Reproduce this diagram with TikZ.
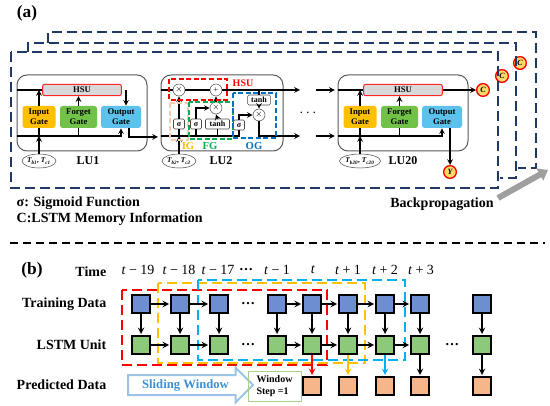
\documentclass[tikz,border=0pt]{standalone}
\usepackage{fontspec}
\setmainfont{Liberation Serif}
\usetikzlibrary{arrows.meta,shapes.geometric,shapes.arrows}

\definecolor{navy}{HTML}{1F3864}
\definecolor{gatey}{HTML}{FFC000}
\definecolor{gateg}{HTML}{72C24A}
\definecolor{gateb}{HTML}{5CC2EC}
\definecolor{hsugray}{HTML}{D9D9D9}
\definecolor{cyel}{HTML}{FFD966}
\definecolor{igpeach}{HTML}{F8CBAD}
\definecolor{fggreen}{HTML}{00B050}
\definecolor{ogblue}{HTML}{0070C0}
\definecolor{sqblue}{HTML}{6D8FD2}
\definecolor{sqgreen}{HTML}{8DC97B}
\definecolor{sqorange}{HTML}{F7B58A}
\definecolor{winorange}{HTML}{FFC000}
\definecolor{winblue}{HTML}{00B0F0}
\definecolor{slideblue}{HTML}{9DC3E6}
\definecolor{slidetext}{HTML}{3D8FD6}
\definecolor{stepgreen}{HTML}{A9D18E}

% one LSTM unit with gate blocks
\newcommand{\lstmcell}[3]{%
	\node[unitbox] (lu#1) at (#2+65,113) {};
	\node[hsubar] (hsu#1) at (#2+65,90) {HSU};
	\node[gatebox, fill=gatey, minimum width=24.75pt] (ig#1) at (#2+22,117) {Input\\Gate};
	\node[gatebox, fill=gateg, minimum width=27.75pt] (fg#1) at (#2+61.5,117) {Forget\\Gate};
	\node[gatebox, fill=gateb, minimum width=30pt] (og#1) at (#2+104,117) {Output\\Gate};
	\node[tinput] (tin#1) at (#2+22,161) {T\textsubscript{b#3}, T\textsubscript{c#3}};
	\coordinate (bot#1) at (#2,136);
	\draw[wire] (lu#1.west |- hsu#1.west) -- (hsu#1.west);
	\draw[wire,-stealth] (tin#1.north) -- (tin#1.north |- bot#1);
	\draw[wire,-stealth] (ig#1.north) -- (ig#1.north |- hsu#1.west);
	\draw[wire] (ig#1.south) -- (ig#1.south |- bot#1);
	\draw[wire,-stealth] (fg#1.north) -- (fg#1.north |- hsu#1.south);
	\draw[wire] (fg#1.south) -- (fg#1.south |- bot#1);
	\draw[wire,-stealth] (bot#1) -| (og#1.south);
}

\begin{document}
\begin{tikzpicture}[x=0.75pt,y=-0.75pt,
	font=\bfseries\fontsize{10.5}{12}\selectfont,
	wire/.style={line width=0.9pt},
	flow/.style={line width=1.1pt,-stealth,shorten >=0.5pt},
	framedash/.style={draw=navy, line width=1.5pt, dash pattern=on 7.5pt off 3.75pt},
	grpdash/.style={line width=1.1pt, dash pattern=on 3.75pt off 1.9pt},
	windash/.style={line width=1.5pt, dash pattern=on 7.5pt off 3.75pt},
	unitbox/.style={draw=black!65, rounded corners=7.5pt, line width=0.75pt, minimum width=97.5pt, minimum height=57pt},
	hsubar/.style={draw=red!85, fill=hsugray, rounded corners=1.5pt, line width=0.75pt, minimum width=59pt, minimum height=8.5pt, inner sep=0pt, font=\bfseries\fontsize{6.5}{7}\selectfont},
	gatebox/.style={rounded corners=2pt, minimum height=16.5pt, inner sep=0pt, align=center, font=\bfseries\fontsize{6.5}{7.5}\selectfont},
	tinput/.style={draw=black!70, ellipse, minimum width=25.5pt, minimum height=10.5pt, inner sep=0pt, font=\bfseries\itshape\fontsize{5.5}{6}\selectfont},
	memc/.style={circle, draw=red, fill=cyel, line width=1pt, minimum size=9.5pt, inner sep=0pt, font=\bfseries\itshape\fontsize{6}{6}\selectfont},
	opc/.style={circle, draw=black!70, fill=white, minimum size=9pt, inner sep=0pt, font=\fontsize{6}{6}\selectfont},
	actbox/.style={draw=black!70, fill=white, rounded corners=1pt, minimum width=8.25pt, minimum height=7.5pt, inner sep=0.5pt, font=\bfseries\fontsize{6}{6}\selectfont},
	unitlab/.style={font=\bfseries\fontsize{9}{10}\selectfont},
	rowlab/.style={anchor=east},
	sqbox/.style={draw=black, line width=1.5pt, minimum size=14pt, inner sep=0pt},
]
\useasboundingbox (0,0) rectangle (550,406);

%% (a) stacked LSTM
\node[font=\bfseries\fontsize{13}{14}\selectfont] (tagA) at (27,13) {(a)};

\node[memc] (c1) at (502,76) {C};
\node[memc] (c2) at (520,63) {C};
\draw[framedash] (11,52) rectangle (498,188);
\draw[framedash] (28,52) -- (28,43) -- (516,43) -- (516,178) -- (500,178);
\draw[framedash] (48,43) -- (48,32) -- (536,32) -- (536,168) -- (518,168);

% LU1
\lstmcell{1}{17}{1}
\node[unitlab] (lab1) at (88,161) {LU1};
\coordinate (od1) at (126,90);
\draw[wire,-stealth] (od1) -- (od1 |- og1.north);
\draw[wire,-stealth] (129,128) |- (158,137);

% LU2 opened up
\node[unitbox, minimum width=91.5pt] (lu2) at (222,113) {};
\node[unitlab] (lab2) at (221,161) {LU2};
\node[opc] (mx1) at (179,90) {$\times$};
\node[opc] (pl) at (216,90) {+};
\node[opc] (mx2) at (216,108) {$\times$};
\node[opc] (mx3) at (259,115) {$\times$};
\node[actbox] (sg1) at (179,124) {σ};
\node[actbox] (sg2) at (196,124) {σ};
\node[actbox, minimum width=18pt] (th1) at (217.5,124) {tanh};
\node[actbox] (sg3) at (239,125) {σ};
\node[actbox, minimum width=17pt] (th2) at (259,100) {tanh};
\node[tinput] (tin2) at (179,161) {T\textsubscript{b2}, T\textsubscript{c2}};
\coordinate (bot2) at (161,136);
\coordinate (gapT) at (300,90);
\coordinate (gapB) at (300,136);
\coordinate (resT) at (316,90);
\coordinate (resB) at (316,136);

\draw[wire] (lu2.west |- mx1) -- (mx1) -- (pl);
\draw[wire,-stealth] (pl) -- (gapT);
\draw[wire,-stealth] (tin2.north) -- (tin2.north |- bot2);
\draw[wire] (bot2) -- (bot2 -| sg3.south) -- (sg3.south);
\draw[wire] (sg1.south) -- (sg1.south |- bot2);
\draw[wire] (sg2.south) -- (sg2.south |- bot2);
\draw[wire] (th1.south) -- (th1.south |- bot2);
\draw[wire,-stealth] (sg1.north) -- (mx1.south);
\draw[wire,-stealth] (sg2.north) |- (mx2.west);
\draw[wire,-stealth] (th1.north) -- (mx2.south);
\draw[wire,-stealth] (mx2.north) -- (pl.south);
\draw[wire] (th2.north |- pl) -- (th2.north);
\draw[wire,-stealth] (th2.south) -- (mx3.north);
\draw[wire,-stealth] (sg3.north) |- (mx3.west);
\draw[wire,-stealth] (mx3.south) |- (gapB);

\draw[grpdash, draw=red] (169,79) rectangle (227,100);
\draw[grpdash, draw=igpeach] (170,103) rectangle (188,140);
\draw[grpdash, draw=fggreen] (189,102) rectangle (233,139);
\draw[grpdash, draw=ogblue] (233,93) rectangle (276,138);
\node[text=red, font=\bfseries\fontsize{7.5}{8}\selectfont] (hsuname) at (243,83) {HSU};
\node[text=gatey, font=\bfseries\fontsize{8}{9}\selectfont] (igname) at (188,146) {IG};
\node[text=fggreen, font=\bfseries\fontsize{8}{9}\selectfont] (fgname) at (210,146) {FG};
\node[text=ogblue, font=\bfseries\fontsize{8}{9}\selectfont] (ogname) at (254,146) {OG};

\node (gapdots) at (308,113) {$\cdots$};

% LU20
\lstmcell{20}{338}{20}
\node[unitlab] (lab20) at (403,161) {LU20};
\draw[wire,-stealth,shorten >=2pt] (resT) -- (lu20.west |- resT);
\draw[wire,-stealth,shorten >=2pt] (resB) -- (lu20.west |- resB);
\node[memc] (c0) at (483,90) {C};
\node[memc] (yout) at (450,172) {Y};
\draw[wire,-stealth] (hsu20.east) -- (c0.west);
\coordinate (oo20) at (450,128);
\draw[wire,-stealth] (oo20) -- (yout.north);

% legend and backpropagation
\node[anchor=west] (leg1) at (12,203) {σ: Sigmoid Function};
\node[anchor=west] (leg2) at (12,219) {C:LSTM Memory Information};
\node (bplab) at (442,204) {Backpropagation};
\coordinate (bp0) at (498,198);
\coordinate (bp1) at (548,170);
\draw[line width=4.5pt, draw=gray!75, -{Triangle[length=7pt,width=10pt]}] (bp0) -- (bp1);

\draw[line width=1.2pt, dash pattern=on 6pt off 3.75pt] (10,243) -- (545,243);

%% (b) sliding window
\node[font=\bfseries\fontsize{13}{14}\selectfont] (tagB) at (32,270) {(b)};
\node[rowlab] (lbtime) at (111,272) {Time};
\node[rowlab] (lbtrain) at (111,304) {Training Data};
\node[rowlab] (lblstm) at (111,345) {LSTM Unit};
\node[rowlab] (lbpred) at (111,385) {Predicted Data};

\foreach \cx/\tl in {138/\kern2.5pt−\kern2.5pt19, 179/\kern2.5pt−\kern2.5pt18, 218/\kern2.5pt−\kern2.5pt17, 277/\kern2.5pt−\kern2.5pt1, 313/, 348/\kern2.5pt+\kern2.5pt1, 385/\kern2.5pt+\kern2.5pt2, 421/\kern2.5pt+\kern2.5pt3}
	\node[font=\mdseries\fontsize{10.5}{12}\selectfont] (tm\cx) at (\cx,270) {\textit{t}\tl};
\node (tmdots) at (246,270) {…};

\draw[windash, draw=red] (122,290) rectangle (327,365);
\draw[windash, draw=winorange] (158,283) rectangle (365,363);
\draw[windash, draw=winblue] (198,280) rectangle (405,360);

\coordinate (prow) at (0,386);
\foreach \cx [count=\i] in {141,180,219,277,312,348,385,420,482} {
	\node[sqbox, fill=sqblue] (tr\i) at (\cx,304) {};
	\node[sqbox, fill=sqgreen] (ls\i) at (\cx,345) {};
	\draw[flow] (tr\i) -- (ls\i);
}
\foreach \a/\b in {1/2,2/3,4/5,5/6,6/7,7/8} {
	\draw[flow] (tr\a) -- (tr\b);
	\draw[flow] (ls\a) -- (ls\b);
}
\foreach \i/\c in {5/red,6/winorange,7/winblue,8/black,9/black} {
	\node[sqbox, fill=sqorange] (pr\i) at (ls\i |- prow) {};
	\draw[flow, draw=\c] (ls\i) -- (pr\i);
}
\node (dots1) at (248,304) {…};
\node (dots2) at (248,345) {…};
\node (dots3) at (452,345) {…};

\node[single arrow, draw=slideblue, line width=1.5pt, fill=white, minimum height=93.75pt, minimum width=25.5pt, single arrow head extend=5.5pt, inner xsep=2pt, text height=8pt, text depth=2.5pt, inner ysep=1.5pt, text=slidetext, font=\bfseries\fontsize{9.5}{10}\selectfont] (slide) at (185.5,385) {Sliding Window};
\node[draw=stepgreen, line width=0.75pt, minimum width=39.75pt, minimum height=22.5pt, align=left, inner sep=1pt, font=\bfseries\fontsize{7.5}{9}\selectfont] (stepbox) at (274.5,386) {Window\\Step =1};
\end{tikzpicture}
\end{document}
